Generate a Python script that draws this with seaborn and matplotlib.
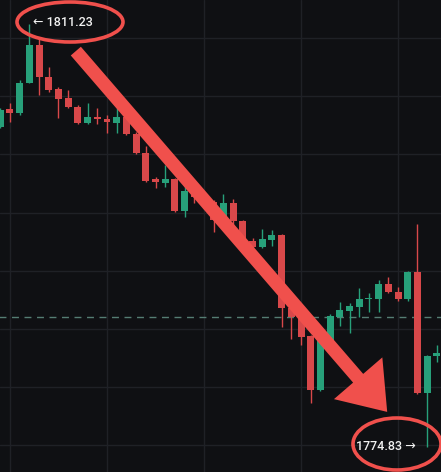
import matplotlib
matplotlib.use("Agg")
import matplotlib.pyplot as plt
import seaborn as sns
import numpy as np
import pandas as pd
from matplotlib.patches import Ellipse, FancyArrowPatch
from matplotlib.transforms import IdentityTransform

# ---- data ----
opens = [1802.36, 1803.91, 1803.56, 1806.14, 1809.41, 1806.66, 1805.63, 1804.85, 1804.08, 1802.70,
         1803.22, 1803.05, 1802.70, 1803.22, 1801.76, 1800.12, 1797.88, 1797.54, 1797.88, 1795.13,
         1796.85, 1796.51, 1795.90, 1794.53, 1795.82, 1794.27, 1792.55, 1792.03, 1792.63, 1793.06,
         1786.78, 1786.01, 1784.37, 1779.72, 1784.03, 1786.01, 1786.52, 1786.87, 1787.56, 1787.56,
         1788.85, 1788.16, 1787.56, 1789.88, 1779.47, 1782.65]
closes = [1803.82, 1803.56, 1806.14, 1809.41, 1806.66, 1805.54, 1804.77, 1804.08, 1802.70, 1803.22,
          1803.05, 1802.79, 1803.22, 1801.76, 1800.12, 1797.71, 1797.62, 1797.88, 1795.13, 1796.85,
          1796.33, 1795.73, 1794.35, 1795.82, 1794.27, 1792.63, 1792.03, 1792.72, 1793.06, 1786.78,
          1786.01, 1784.29, 1779.72, 1784.03, 1786.09, 1786.61, 1786.95, 1787.56, 1787.64, 1788.85,
          1788.16, 1787.56, 1789.88, 1779.47, 1782.65, 1782.91]
highs = [1803.99, 1804.42, 1806.40, 1811.23, 1810.02, 1807.52, 1805.80, 1805.54, 1804.25, 1804.42,
         1803.99, 1803.39, 1803.99, 1803.39, 1801.93, 1800.72, 1798.06, 1799.09, 1797.97, 1797.37,
         1797.02, 1796.68, 1796.08, 1796.59, 1796.16, 1794.35, 1792.81, 1793.58, 1793.49, 1793.15,
         1786.95, 1786.18, 1784.46, 1784.20, 1786.26, 1787.30, 1787.21, 1788.50, 1788.07, 1789.19,
         1789.45, 1788.59, 1789.97, 1794.01, 1782.74, 1783.60]
lows = [1802.27, 1802.79, 1803.39, 1806.14, 1805.11, 1805.37, 1803.13, 1803.99, 1802.62, 1802.62,
        1802.62, 1801.84, 1801.84, 1801.67, 1800.03, 1797.62, 1797.11, 1797.19, 1795.04, 1794.61,
        1795.82, 1795.39, 1793.32, 1794.44, 1793.67, 1792.55, 1791.94, 1791.94, 1792.12, 1785.15,
        1784.11, 1783.60, 1778.61, 1779.64, 1783.94, 1785.23, 1784.63, 1786.01, 1786.44, 1786.44,
        1788.07, 1787.38, 1787.38, 1779.38, 1774.83, 1782.13]
high_label = "← 1811.23"
low_label = "1774.83 →"
ref_price = 1786.0

df = pd.DataFrame({"open": opens, "close": closes, "high": highs, "low": lows})
df["idx"] = np.arange(len(df))
df["up"] = df["close"] >= df["open"]

GREEN = "#27a07a"
RED = "#d8484a"
BG = "#0f1013"
GRID = "#1f2126"
ANNOT = "#f0504c"

sns.set_theme(style="dark", rc={"axes.facecolor": BG, "figure.facecolor": BG})
plt.rcParams["font.family"] = ["Roboto", "DejaVu Sans"]

W, H = 441, 472
fig = plt.figure(figsize=(W / 100, H / 100), dpi=100)
ax = fig.add_axes([0, 0, 1, 1])
ax.set_facecolor(BG)

# grid lines
for gx in [1, 11, 21, 31, 41]:
    ax.axvline(gx, color=GRID, lw=1, zorder=0)
for gy in np.arange(1775, 1815, 5):
    ax.axhline(gy, color=GRID, lw=1, zorder=0)

colors = [GREEN if u else RED for u in df["up"]]
# wicks
ax.vlines(df["idx"], df["low"], df["high"], colors=colors, lw=1.0, zorder=2)
# bodies
bottoms = np.minimum(df["open"], df["close"])
heights = np.maximum(np.abs(df["close"] - df["open"]), 0.12)
ax.bar(df["idx"], heights, bottom=bottoms, width=0.72, color=colors, lw=0, zorder=3)

# dashed reference line
sns.lineplot(x=[-1, 47], y=[ref_price, ref_price], ax=ax, color="#557d73", lw=1,
             linestyle=(0, (5, 4)), zorder=1)

ax.set_xlim(-0.03, 45.43)
ax.set_ylim(1772.67, 1813.29)
ax.set_xticks([])
ax.set_yticks([])
for s in ax.spines.values():
    s.set_visible(False)
ax.grid(False)

ident = IdentityTransform()

def px(x, y):
    return (x, H - y)

# labels
ax.text(*px(33, 23), high_label, transform=ident, color="#f2f2f2", fontsize=9,
        va="center", ha="left", fontweight="medium", zorder=6)
ax.text(*px(356, 446), low_label, transform=ident, color="#f2f2f2", fontsize=9,
        va="center", ha="left", fontweight="medium", zorder=6)

# ellipses
ax.add_patch(Ellipse(px(70, 22), 106, 40, transform=ident, fill=False, ec=ANNOT,
                     lw=2.6, zorder=7, clip_on=False))
ax.add_patch(Ellipse(px(397, 444), 88, 52, transform=ident, fill=False, ec=ANNOT,
                     lw=2.6, zorder=7, clip_on=False))

# big arrow
arr = FancyArrowPatch(px(74, 49), px(389, 414), transform=ident,
                      arrowstyle="simple,head_length=1.6,head_width=2.3,tail_width=0.48",
                      mutation_scale=20, color=ANNOT, lw=0, zorder=8)
ax.add_patch(arr)

fig.savefig("out.png", dpi=100, facecolor=BG)
